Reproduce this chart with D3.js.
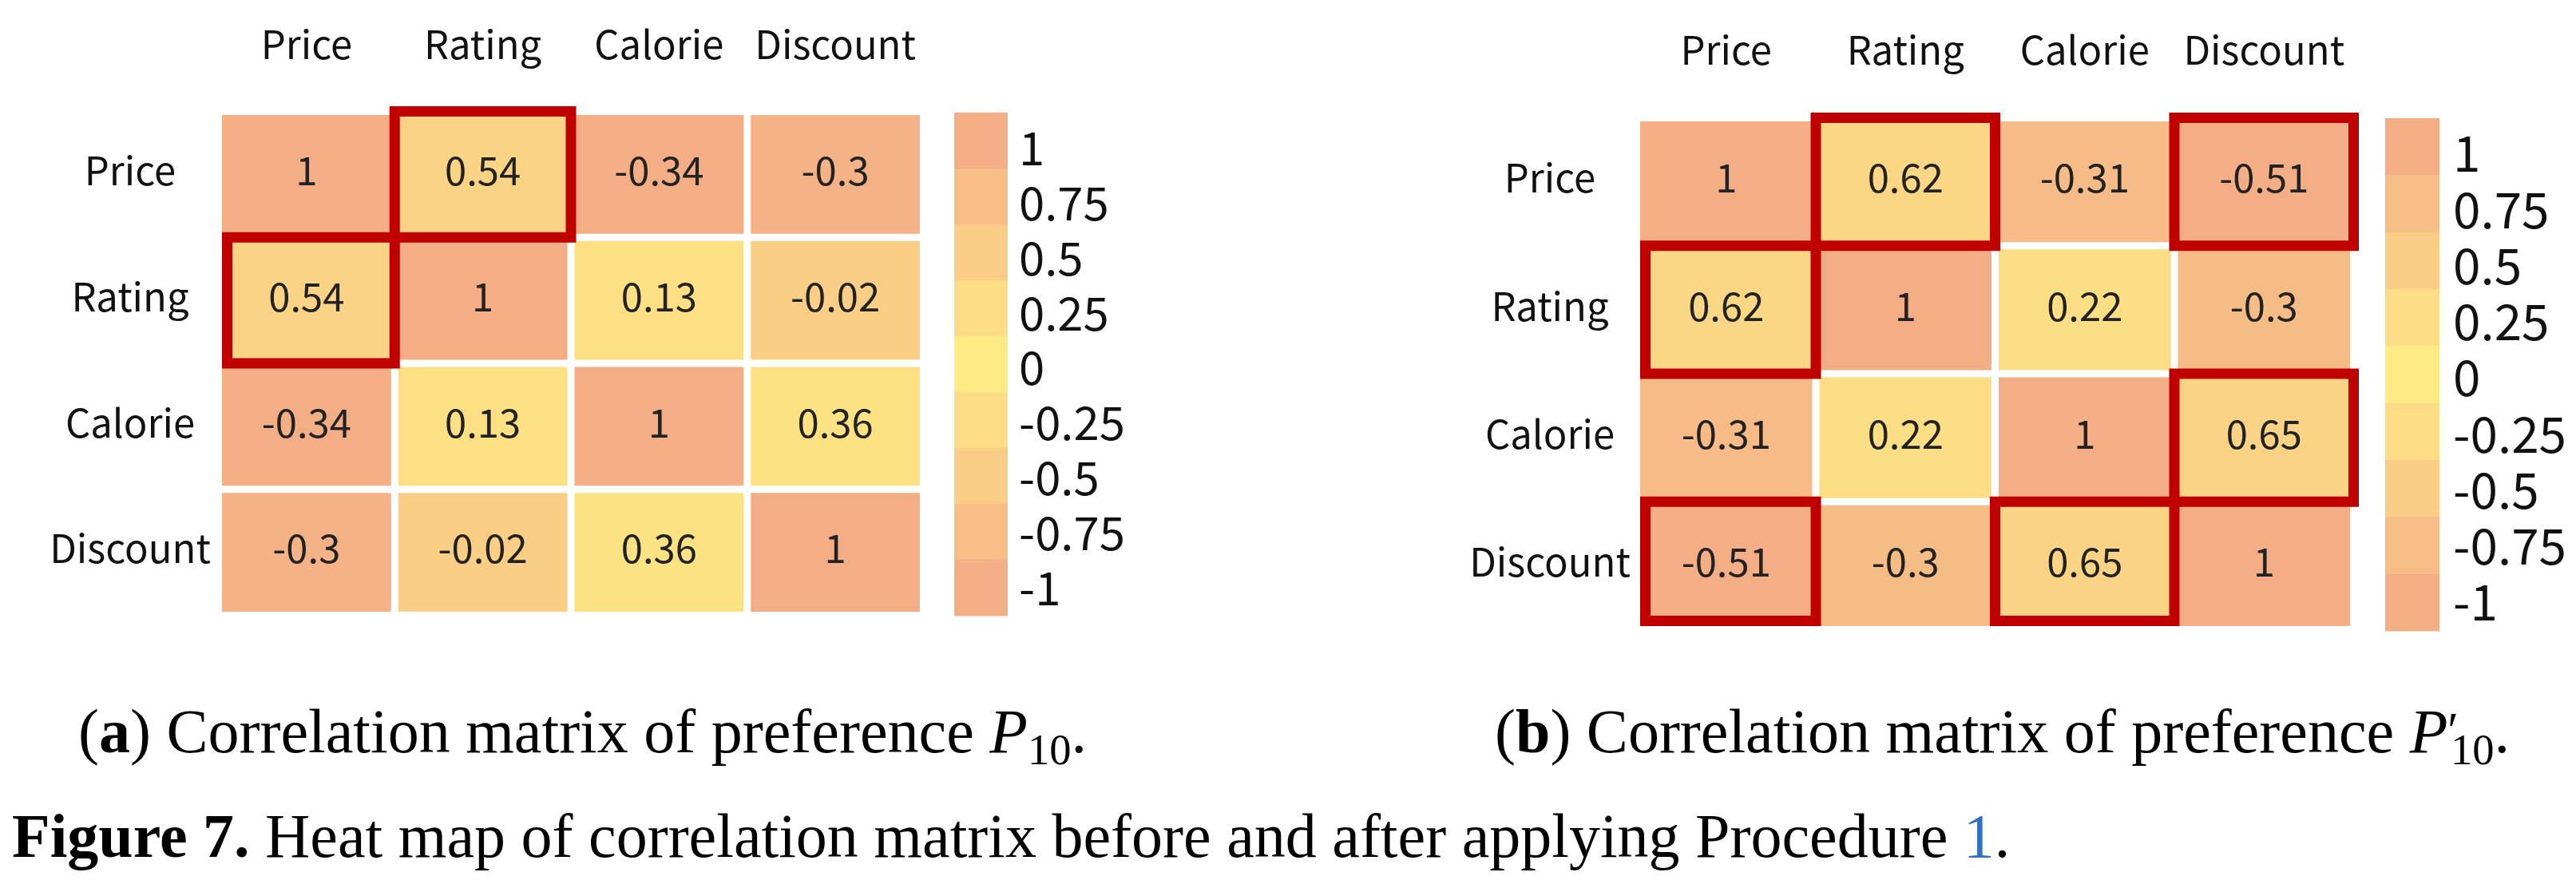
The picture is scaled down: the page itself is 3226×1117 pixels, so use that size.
<!DOCTYPE html>
<html>
<head>
<meta charset="utf-8">
<script src="https://cdn.jsdelivr.net/npm/d3@7"></script>
<style>
  body { margin: 0; background: #fff; }
  svg { display: block; }
</style>
</head>
<body>
<div id="chart"></div>
<script>
const categories = ['Price', 'Rating', 'Calorie', 'Discount'];

// correlation matrix before (a) and after (b)
const valuesA = [
  [1, 0.54, -0.34, -0.3],
  [0.54, 1, 0.13, -0.02],
  [-0.34, 0.13, 1, 0.36],
  [-0.3, -0.02, 0.36, 1]
];
const valuesB = [
  [1, 0.62, -0.31, -0.51],
  [0.62, 1, 0.22, -0.3],
  [-0.31, 0.22, 1, 0.65],
  [-0.51, -0.3, 0.65, 1]
];

// highlighted cells [row, col]
const highlightA = [[0, 1], [1, 0]];
const highlightB = [[0, 1], [1, 0], [0, 3], [3, 0], [2, 3], [3, 2]];

const legendTicks = [1, 0.75, 0.5, 0.25, 0, -0.25, -0.5, -0.75, -1];

const width = 3226;
const height = 1117;
const salmon = '#f3ae86';
const yellow = '#ffeb84';
const boxColor = '#c00000';
const labelFont = '"Noto Sans CJK JP", "Noto Sans", sans-serif';
const serif = '"Liberation Serif", "DejaVu Serif", serif';

const svg = d3.select('#chart')
  .append('svg')
  .attr('width', width)
  .attr('height', height);

svg.append('rect')
  .attr('width', width)
  .attr('height', height)
  .attr('fill', '#fff');

function drawPanel(values, highlights, L) {
  const gap = 9;
  const g = svg.append('g');
  const flat = values.flat();

  // excel-like 3 colour scale: min -> median -> max
  const color = d3.scaleLinear()
    .domain([d3.min(flat), d3.median(flat), d3.max(flat)])
    .range([salmon, yellow, salmon]);

  const x = d3.scaleBand()
    .domain(categories)
    .range([L.x0 - gap / 2, L.x1 + gap / 2]);
  const y = d3.scaleBand()
    .domain(categories)
    .range([L.y0 - gap / 2, L.y1 + gap / 2]);

  const cells = [];
  values.forEach((row, i) => row.forEach((v, j) => {
    cells.push({ row: categories[i], col: categories[j], v });
  }));

  g.selectAll('rect.cell')
    .data(cells)
    .enter()
    .append('rect')
    .attr('class', 'cell')
    .attr('x', d => x(d.col) + gap / 2)
    .attr('y', d => y(d.row) + gap / 2)
    .attr('width', x.bandwidth() - gap)
    .attr('height', y.bandwidth() - gap)
    .attr('fill', d => color(d.v));

  g.selectAll('text.val')
    .data(cells)
    .enter()
    .append('text')
    .attr('class', 'val')
    .attr('x', d => x(d.col) + x.bandwidth() / 2)
    .attr('y', d => y(d.row) + y.bandwidth() / 2 + 0.28 * L.fs)
    .attr('text-anchor', 'middle')
    .attr('font-family', labelFont)
    .attr('font-size', L.fs)
    .attr('fill', '#222')
    .text(d => String(d.v));

  // column labels on top
  g.selectAll('text.col')
    .data(categories)
    .enter()
    .append('text')
    .attr('x', d => x(d) + x.bandwidth() / 2)
    .attr('y', L.colLabelY)
    .attr('text-anchor', 'middle')
    .attr('font-family', labelFont)
    .attr('font-size', L.fs)
    .attr('fill', '#111')
    .text(d => d);

  // row labels on the left
  g.selectAll('text.row')
    .data(categories)
    .enter()
    .append('text')
    .attr('x', L.rowLabelX)
    .attr('y', d => y(d) + y.bandwidth() / 2 + 0.28 * L.fs)
    .attr('text-anchor', 'middle')
    .attr('font-family', labelFont)
    .attr('font-size', L.fs)
    .attr('fill', '#111')
    .text(d => d);

  // red boxes
  const sw = 13;
  g.selectAll('rect.box')
    .data(highlights)
    .enter()
    .append('rect')
    .attr('class', 'box')
    .each(function(d) {
      const bx0 = Math.max(x(categories[d[1]]), L.x0 + sw / 2);
      const bx1 = x(categories[d[1]]) + x.bandwidth();
      const by0 = y(categories[d[0]]);
      const by1 = Math.min(y(categories[d[0]]) + y.bandwidth(), L.y1 - sw / 2);
      d3.select(this)
        .attr('x', bx0)
        .attr('y', by0)
        .attr('width', bx1 - bx0)
        .attr('height', by1 - by0);
    })
    .attr('fill', 'none')
    .attr('stroke', boxColor)
    .attr('stroke-width', sw);

  // legend
  const legColor = d3.scaleLinear()
    .domain([-1, 0, 1])
    .range([salmon, yellow, salmon]);
  const ly = d3.scaleBand()
    .domain(legendTicks)
    .range([L.legY0, L.legY1]);
  const lt = d3.scalePoint()
    .domain(legendTicks)
    .range([L.legY0 + L.legTop, L.legY1 - L.legBottom]);

  g.selectAll('rect.leg')
    .data(legendTicks)
    .enter()
    .append('rect')
    .attr('x', L.legX0)
    .attr('y', d => ly(d))
    .attr('width', L.legX1 - L.legX0)
    .attr('height', ly.bandwidth() + 0.5)
    .attr('fill', d => legColor(d));

  g.selectAll('text.leg')
    .data(legendTicks)
    .enter()
    .append('text')
    .attr('x', L.legLabelX)
    .attr('y', d => lt(d) + 0.36 * L.legFs)
    .attr('font-family', labelFont)
    .attr('font-size', L.legFs)
    .attr('fill', '#111')
    .text(d => String(d));
}

drawPanel(valuesA, highlightA, {
  x0: 278, x1: 1152, y0: 144, y1: 766, fs: 49,
  colLabelY: 74, rowLabelX: 163,
  legX0: 1195, legX1: 1262, legY0: 141, legY1: 771,
  legTop: 45, legBottom: 34, legLabelX: 1276, legFs: 58
});

drawPanel(valuesB, highlightB, {
  x0: 2054, x1: 2943, y0: 152, y1: 784, fs: 49,
  colLabelY: 81, rowLabelX: 1941,
  legX0: 2987, legX1: 3055, legY0: 148, legY1: 790,
  legTop: 45, legBottom: 35, legLabelX: 3072, legFs: 62
});

// captions
const capFs = 78;

const capA = svg.append('text')
  .attr('x', 98)
  .attr('y', 942)
  .attr('font-family', serif)
  .attr('font-size', capFs)
  .attr('fill', '#000');
capA.append('tspan').text('(');
capA.append('tspan').attr('font-weight', 'bold').text('a');
capA.append('tspan').text(') Correlation matrix of preference ');
capA.append('tspan').attr('font-style', 'italic').text('P');
capA.append('tspan').attr('font-size', capFs * 0.7).attr('dy', 15).text('10');
capA.append('tspan').attr('dy', -15).text('.');

const capB = svg.append('text')
  .attr('x', 1872)
  .attr('y', 942)
  .attr('font-family', serif)
  .attr('font-size', capFs)
  .attr('fill', '#000');
capB.append('tspan').text('(');
capB.append('tspan').attr('font-weight', 'bold').text('b');
capB.append('tspan').text(') Correlation matrix of preference ');
capB.append('tspan').attr('font-style', 'italic').text('P');
capB.append('tspan').attr('font-size', capFs * 0.8).attr('dy', -6).text('\u2032');
capB.append('tspan').attr('font-size', capFs * 0.7).attr('dx', -10).attr('dy', 21).text('10');
capB.append('tspan').attr('dy', -15).text('.');

const fig = svg.append('text')
  .attr('x', 15)
  .attr('y', 1073)
  .attr('font-family', serif)
  .attr('font-size', capFs)
  .attr('fill', '#000');
fig.append('tspan').attr('font-weight', 'bold').text('Figure 7.');
fig.append('tspan').text(' Heat map of correlation matrix before and after applying Procedure ');
fig.append('tspan').attr('fill', '#2f6fc4').text('1');
fig.append('tspan').text('.');
</script>
</body>
</html>
